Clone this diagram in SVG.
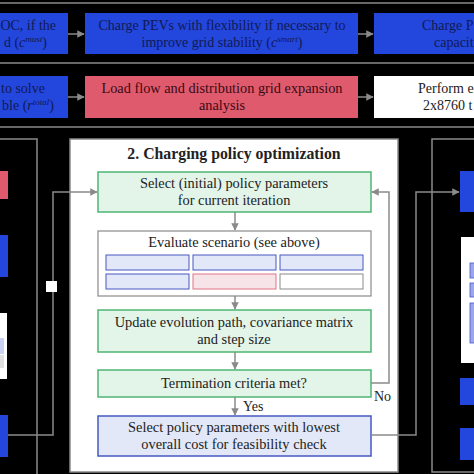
<svg xmlns="http://www.w3.org/2000/svg" width="474" height="474" viewBox="0 0 474 474">
<defs>
<marker id="ah" viewBox="0 0 10 10" refX="9" refY="5" markerWidth="5" markerHeight="5" orient="auto"><path d="M0,0 L10,5 L0,10 z" fill="#8a8a8a"/></marker>
<style>
text{font-family:"Liberation Serif","DejaVu Serif",serif;font-size:14px;text-anchor:middle;fill:#222}
.dk{fill:#101a55}
.st{text-anchor:start}
.en{text-anchor:end}
.bl{fill:#2346dc;stroke:none}
.pk{fill:#e05a6e;stroke:none}
.wh{fill:#ffffff;stroke:none}
.gr{fill:#e3f4e9;stroke:#4fb574;stroke-width:1.5}
.lb{fill:#e3e8f8;stroke:#4658c0;stroke-width:1.5}
.ev{fill:#ffffff;stroke:#8a8a8a;stroke-width:1.2}
.sb{fill:#e3e8f8;stroke:#4658c0;stroke-width:1}
.sp{fill:#f7e4e8;stroke:#e07585;stroke-width:1}
.sw{fill:#ffffff;stroke:#8a8a8a;stroke-width:1}
.ln{fill:none;stroke:#8a8a8a;stroke-width:1.5}
</style>
</defs>
<rect width="474" height="474" fill="#000"/>
<g id="frames">
<line x1="0" y1="3" x2="474" y2="3" class="ln"/>
<line x1="0" y1="63" x2="474" y2="63" class="ln"/>
<line x1="0" y1="127" x2="474" y2="127" class="ln"/>
<path d="M0,139 H37 V474" class="ln"/>
<path d="M474,139 H432 V472 H474" class="ln"/>
</g>
<g id="n1"><rect x="0" y="13" width="68" height="41" class="bl"/>
<text class="dk en" x="56" y="30">OC, if the</text>
<text class="dk en" x="47" y="47">d (<tspan font-style="italic">c</tspan><tspan font-size="9" dy="-5" font-style="italic">must</tspan><tspan dy="5">)</tspan></text>
</g>
<g id="n2"><rect x="85" y="13" width="273" height="41" class="bl"/>
<text class="dk" x="222" y="30">Charge PEVs with flexibility if necessary to</text>
<text class="dk" x="222" y="47">improve grid stability (<tspan font-style="italic">c</tspan><tspan font-size="9" dy="-5" font-style="italic">smart</tspan><tspan dy="5">)</tspan></text>
</g>
<g id="n3"><rect x="374" y="13" width="100" height="41" class="bl"/>
<text class="dk st" x="422" y="30">Charge P</text>
<text class="dk st" x="434" y="47">capacit</text>
</g>
<g id="n4"><rect x="0" y="76" width="68" height="42" class="bl"/>
<text class="dk st" x="1" y="93">to solve</text>
<text class="dk en" x="54" y="110">ble (<tspan font-style="italic">r</tspan><tspan font-size="9" dy="-5" font-style="italic">total</tspan><tspan dy="5">)</tspan></text>
</g>
<g id="n5"><rect x="85" y="76" width="273" height="42" class="pk"/>
<text x="222" y="93" style="fill:#3a0a12;font-size:14.3px">Load flow and distribution grid expansion</text>
<text x="222" y="110" style="fill:#3a0a12;font-size:14.3px">analysis</text>
</g>
<g id="n6"><rect x="374" y="76" width="100" height="42" class="wh"/>
<text class="st" x="418" y="93">Perform e</text>
<text class="st" x="423" y="110">2x8760 t</text>
</g>
<g id="left-panel">
<rect x="0" y="171" width="8" height="28" class="pk"/>
<rect x="0" y="235" width="8" height="42" class="bl"/>
<rect x="0" y="313" width="7" height="66" class="wh"/>
<rect x="0" y="338" width="4" height="16" fill="#c9d2f5"/>
<rect x="0" y="355" width="4" height="13" fill="#e0e0e0"/>
<rect x="0" y="415" width="8" height="42" class="bl"/>
</g>
<g id="right-panel">
<rect x="460" y="171" width="14" height="41" class="bl"/>
<rect x="461" y="237" width="13" height="126" class="wh"/>
<rect x="470" y="263" width="5" height="15" fill="#9aa6ee" stroke="#4658c0" stroke-width="0.8"/>
<rect x="470" y="283" width="5" height="14" fill="#9aa6ee" stroke="#4658c0" stroke-width="0.8"/>
<rect x="470" y="303" width="5" height="40" fill="#9aa6ee" stroke="#4658c0" stroke-width="0.8"/>
<rect x="460" y="378" width="14" height="27" class="bl"/>
<rect x="460" y="428" width="14" height="32" class="bl"/>
</g>
<g id="panel2">
<rect x="70" y="139" width="328" height="333" fill="#fff" stroke="#8a8a8a" stroke-width="1.5"/>
<text x="234" y="159" font-weight="bold" style="font-size:15.8px">2. Charging policy optimization</text>
</g>
<g id="select-init"><rect x="98" y="172" width="273" height="40" class="gr"/>
<text x="234" y="188" style="font-size:14.4px">Select (initial) policy parameters</text>
<text x="234" y="205" style="font-size:14.4px">for current iteration</text></g>
<g id="evaluate"><rect x="98" y="231" width="273" height="65" class="ev"/>
<text x="234" y="247" style="font-size:14.4px">Evaluate scenario (see above)</text>
<rect x="106" y="255" width="83" height="15" class="sb"/>
<rect x="193" y="255" width="83" height="15" class="sb"/>
<rect x="280" y="255" width="83" height="15" class="sb"/>
<rect x="106" y="274" width="83" height="15" class="sb"/>
<rect x="193" y="274" width="83" height="15" class="sp"/>
<rect x="280" y="274" width="83" height="15" class="sw"/></g>
<g id="update"><rect x="98" y="310" width="273" height="42" class="gr"/>
<text x="234" y="327" style="font-size:14.4px">Update evolution path, covariance matrix</text>
<text x="234" y="344" style="font-size:14.4px">and step size</text></g>
<g id="termination"><rect x="98" y="370" width="273" height="27" class="gr"/>
<text x="234" y="388" style="font-size:14.4px">Termination criteria met?</text></g>
<g id="select-final"><rect x="98" y="416" width="273" height="40" class="lb"/>
<text x="234" y="432" style="font-size:14.4px">Select policy parameters with lowest</text>
<text x="234" y="449" style="font-size:14.4px">overall cost for feasibility check</text></g>
<g id="connectors">
<line x1="68" y1="34" x2="84" y2="34" class="ln" marker-end="url(#ah)"/>
<line x1="358" y1="34" x2="373" y2="34" class="ln" marker-end="url(#ah)"/>
<line x1="68" y1="97" x2="84" y2="97" class="ln" marker-end="url(#ah)"/>
<line x1="358" y1="97" x2="373" y2="97" class="ln" marker-end="url(#ah)"/>
<path d="M8,435 H53 V192 H97" class="ln" marker-end="url(#ah)"/>
<rect x="46" y="281" width="11" height="11" fill="#fff"/>
<line x1="235" y1="212" x2="235" y2="230" class="ln" marker-end="url(#ah)"/>
<line x1="235" y1="296" x2="235" y2="309" class="ln" marker-end="url(#ah)"/>
<line x1="235" y1="352" x2="235" y2="369" class="ln" marker-end="url(#ah)"/>
<line x1="235" y1="397" x2="235" y2="415" class="ln" marker-end="url(#ah)"/>
<path d="M371,383 H389 V192 H372" class="ln" marker-end="url(#ah)"/>
<path d="M371,435 H416 V192 H459" class="ln" marker-end="url(#ah)"/>
<text class="st" x="243" y="411">Yes</text>
<text class="st" x="374" y="401">No</text>
</g>
</svg>
